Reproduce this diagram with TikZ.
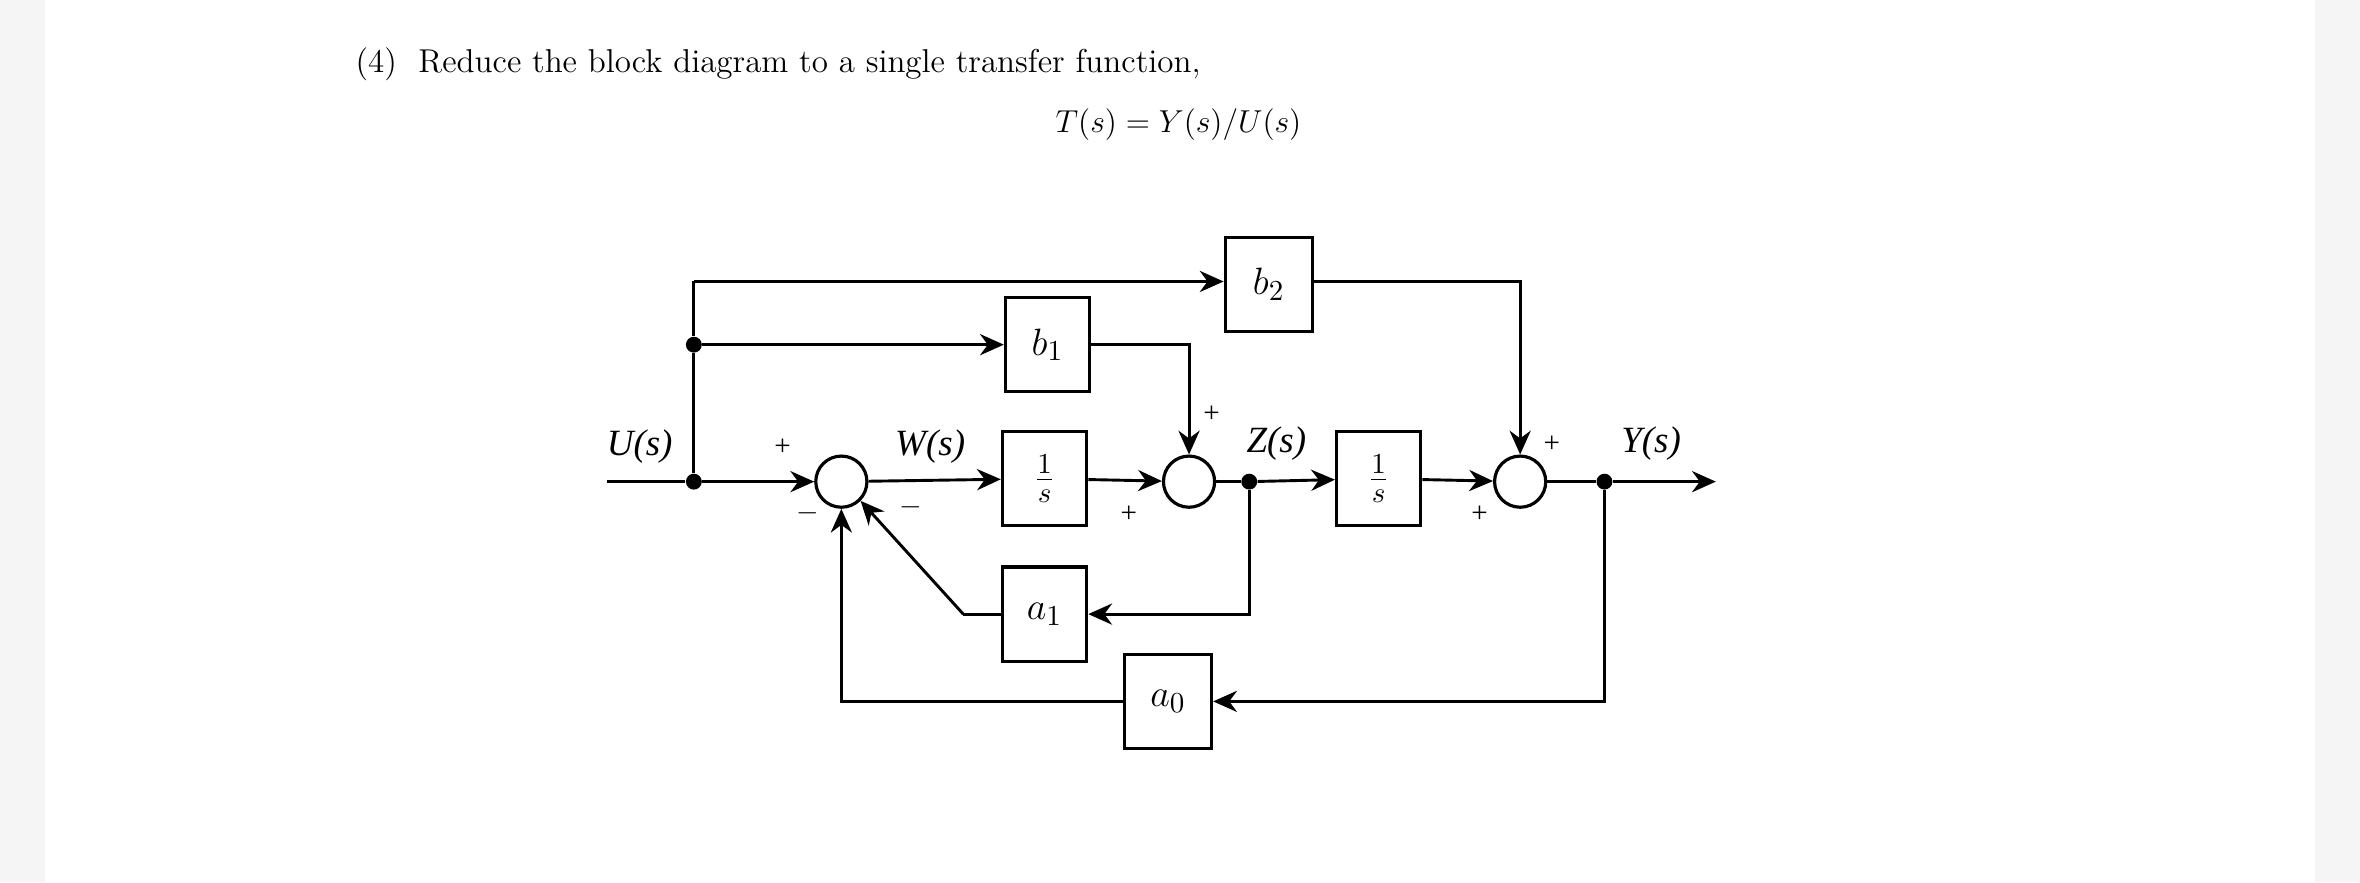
\documentclass[tikz,border=0pt]{standalone}
\usepackage{fontspec}
\setmainfont{Liberation Serif}
\newfontfamily\lmr{Latin Modern Roman}
\usetikzlibrary{arrows.meta}
\begin{document}
\begin{tikzpicture}[x=0.02cm,y=-0.02cm,
  blk/.style={draw,line width=1.2pt,minimum width=1.12cm,minimum height=1.25cm,inner sep=0pt,font=\fontsize{15}{17}\selectfont\itshape},
  sum/.style={draw,circle,line width=1.2pt,minimum size=0.68cm,inner sep=0pt},
  ln/.style={line width=1.1pt},
  ar/.style={ln,-{Stealth[length=9pt,width=8pt]}},
  dot/.style={circle,fill,inner sep=0pt,minimum size=6pt},
  lab/.style={font=\fontsize{14}{16}\selectfont\itshape},
  sg/.style={font=\fontsize{11}{12}\selectfont}]
\useasboundingbox (0,0) rectangle (1568,586);
\fill[gray!8] (0,0) rectangle (30,586);
\fill[gray!8] (1538,0) rectangle (1568,586);
\node[anchor=west,font=\lmr\fontsize{12.5}{15}\selectfont] (title) at (230,43) {(4)\ \ Reduce the block diagram to a single transfer function,};
\node[font=\lmr\fontsize{12.5}{15}\selectfont] (eq) at (783,83) {$T(s) = Y(s)/U(s)$};
% blocks
\node[blk,minimum width=1.16cm] (b2) at (843,189) {$b_2$};
\node[blk] (b1) at (696,229) {$b_1$};
\node[blk] (i1) at (694,318) {$\frac{1}{s}$};
\node[blk] (i2) at (916,318) {$\frac{1}{s}$};
\node[blk] (a1) at (694,408) {$a_1$};
\node[blk,minimum width=1.16cm] (a0) at (776,466) {$a_0$};
\node[sum] (s1) at (559,320) {};
\node[sum] (s2) at (790,320) {};
\node[sum] (s3) at (1010,320) {};
\coordinate (in) at (403,320);
\coordinate (out) at (1140,320);
\node[dot] (d1) at (461,320) {};
\node[dot] (d2) at (461,229) {};
\node[dot] (dz) at (830,320) {};
\node[dot] (dy) at (1066,320) {};
\coordinate (top) at (461,187);
\coordinate (cor) at (640,408);
% connectors
\draw[ln] (in) -- (d1);
\draw[ar] (d1) -- (s1);
\draw[ln] (d1) -- (d2) -- (top);
\draw[ar] (top) -- (b2.west |- top);
\draw[ar] (d2) -- (b1);
\draw[ar] (b1.east) -| (s2.north);
\draw[ar] (b2.east |- top) -| (s3.north);
\draw[ar] (s1) -- (i1);
\draw[ar] (i1) -- (s2);
\draw[ln] (s2) -- (dz);
\draw[ar] (dz) -- (i2);
\draw[ar] (i2) -- (s3);
\draw[ln] (s3) -- (dy);
\draw[ar] (dy) -- (out);
\draw[ar] (dz) |- (a1.east);
\draw[ln] (a1.west) -- (cor);
\draw[ar] (cor) -- (s1.south east);
\draw[ar] (dy) |- (a0.east);
\draw[ar] (a0.west) -| (s1.south);
% labels
\node[lab] (lu) at (425,297) {U(s)};
\node[lab] (lw) at (618,297) {W(s)};
\node[lab] (lz) at (848,295) {Z(s)};
\node[lab] (ly) at (1097,295) {Y(s)};
\node[sg] (p1) at (520,297) {+};
\node[sg] (m1) at (537,341) {$-$};
\node[sg] (m2) at (605,337) {$-$};
\node[sg] (p2) at (805,275) {+};
\node[sg] (p3) at (750,342) {+};
\node[sg] (p4) at (1031,295) {+};
\node[sg] (p5) at (983,342) {+};
\end{tikzpicture}
\end{document}
